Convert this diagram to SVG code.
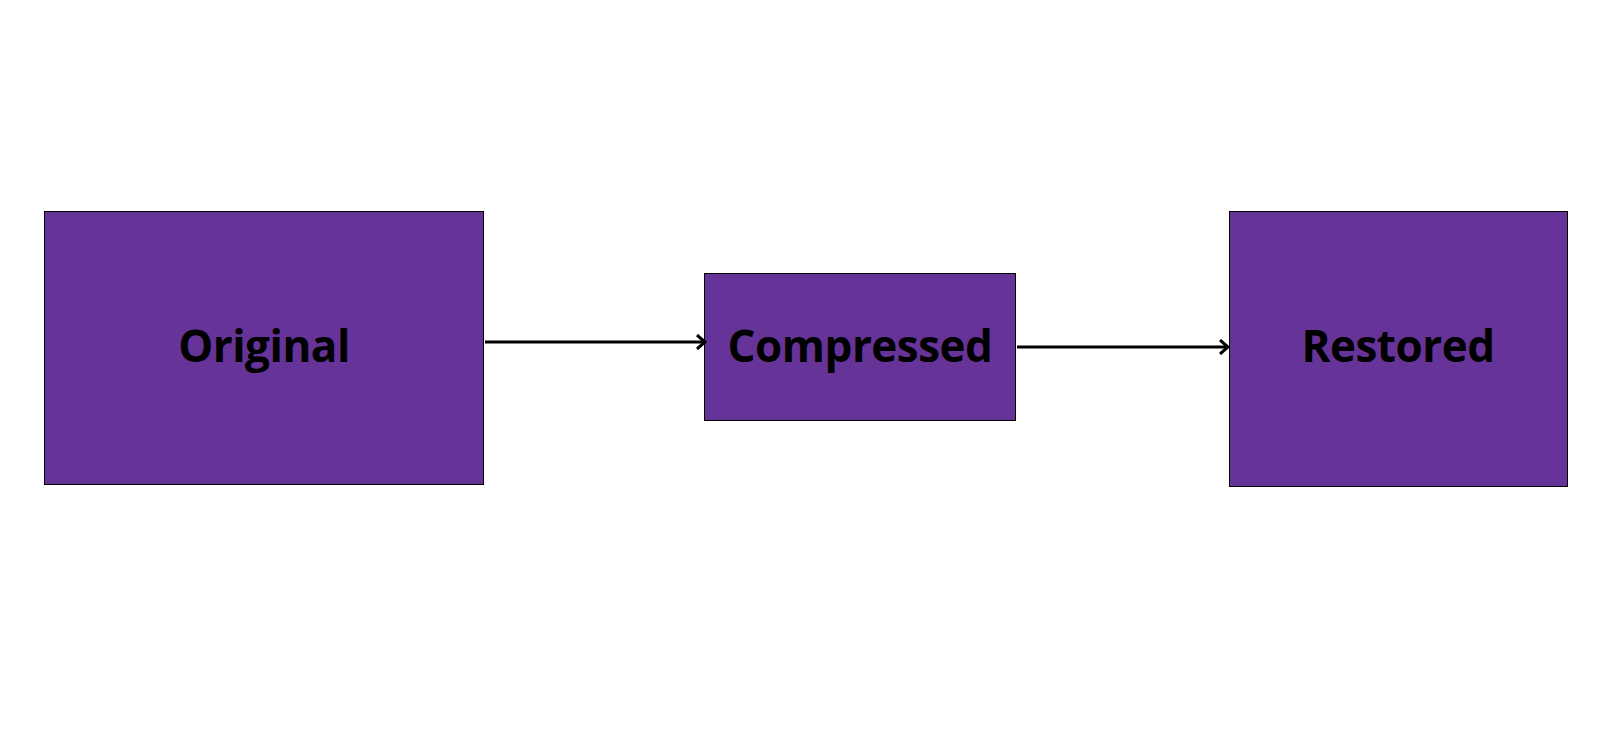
<svg xmlns="http://www.w3.org/2000/svg" width="1614" height="732" viewBox="0 0 1614 732">
<style>
.box{fill:#663399;stroke:#000;stroke-width:1}
.lbl{font-family:"Open Sans","DejaVu Sans",sans-serif;font-weight:bold;font-size:44px;fill:#000;text-anchor:middle;letter-spacing:-0.5px}
.edge{stroke:#000;stroke-width:3;fill:none}
</style>
<defs><marker id="arr" markerWidth="12" markerHeight="16" refX="10" refY="8" orient="auto" markerUnits="userSpaceOnUse"><path d="M2,1 L10,8 L2,15" fill="none" stroke="#000" stroke-width="3"/></marker></defs>
<rect width="1614" height="732" fill="#fff"/>
<g id="original"><rect class="box" x="44.5" y="211.5" width="439" height="273"/><text class="lbl" x="264" y="362">Original</text></g>
<g id="compressed"><rect class="box" x="704.5" y="273.5" width="311" height="147"/><text class="lbl" x="860" y="362">Compressed</text></g>
<g id="restored"><rect class="box" x="1229.5" y="211.5" width="338" height="275"/><text class="lbl" x="1398" y="362">Restored</text></g>
<g id="connectors">
<line class="edge" x1="485" y1="342" x2="705" y2="342" marker-end="url(#arr)"/>
<line class="edge" x1="1017" y1="347" x2="1228" y2="347" marker-end="url(#arr)"/>
</g>
</svg>
